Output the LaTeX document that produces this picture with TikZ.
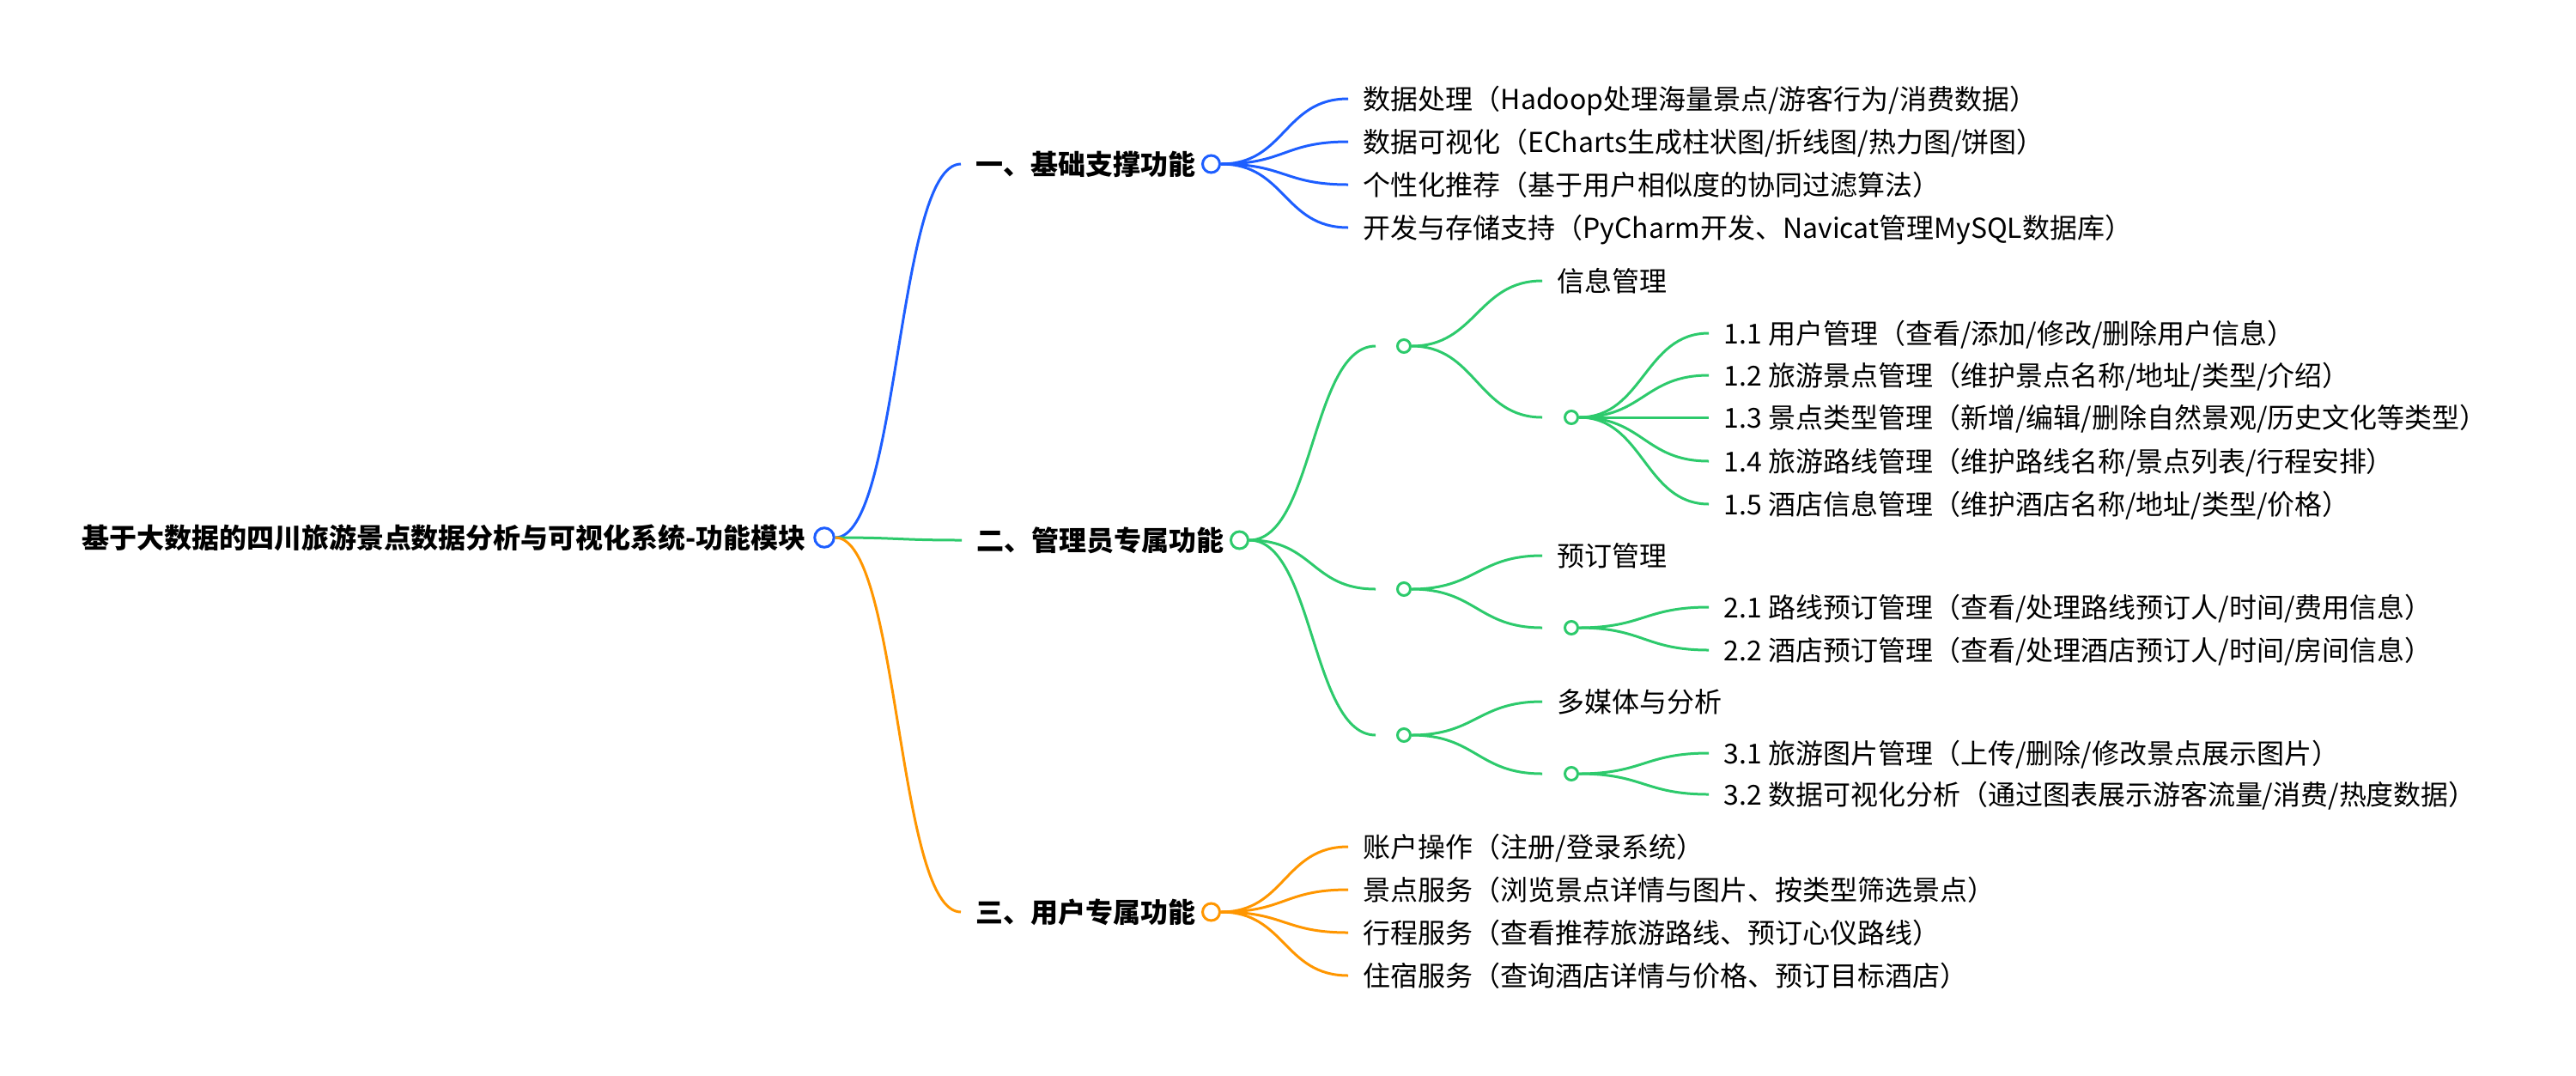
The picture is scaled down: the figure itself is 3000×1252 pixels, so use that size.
\documentclass[tikz,border=0pt]{standalone}
\usepackage{fontspec}
\setmainfont{Noto Sans CJK SC}
\usepackage{tikz}
\usetikzlibrary{positioning, calc}
\definecolor{mapblue}{HTML}{1D5EFF}
\definecolor{mapgreen}{HTML}{2DCA6C}
\definecolor{maporange}{HTML}{FF9600}

\begin{document}
\begin{tikzpicture}[
  x=0.02cm, y=-0.02cm,
  every node/.style={font=\fontsize{18.2}{22}\selectfont, text=black},
  topic/.style={anchor=west, inner xsep=0.35cm, inner ysep=0pt, text height=0.55cm, text depth=0.064cm},
  head/.style={topic, font=\fontsize{18.2}{22}\selectfont\bfseries},
  dot/.style={circle, draw, fill=white, line width=0.06cm, inner sep=0pt, minimum size=0.4cm},
  subdot/.style={dot, minimum size=0.3cm},
  link/.style={line width=0.06cm, out=0, in=180, distance=1.5cm}
]
\useasboundingbox (0,0) rectangle (3000,1252);

\node[dot, draw=mapblue, minimum size=0.45cm] (root) at (960,626) {};
\node[head, anchor=east, inner xsep=0.16cm] (title) at (root.west) {基于大数据的四川旅游景点数据分析与可视化系统-功能模块};

% 一、基础支撑功能
\node[head] (base) at (1119,191) {一、基础支撑功能};
\node[dot, draw=mapblue] (basedot) at (base.east) {};
\node[topic] (base1) at (1570,115) {数据处理（Hadoop处理海量景点/游客行为/消费数据）};
\node[topic] (base2) at (1570,165) {数据可视化（ECharts生成柱状图/折线图/热力图/饼图）};
\node[topic] (base3) at (1570,215) {个性化推荐（基于用户相似度的协同过滤算法）};
\node[topic] (base4) at (1570,265) {开发与存储支持（PyCharm开发、Navicat管理MySQL数据库）};

% 二、管理员专属功能
\node[head] (admin) at (1120,629) {二、管理员专属功能};
\node[dot, draw=mapgreen] (admindot) at (admin.east) {};

\coordinate (info) at (1602,403);
\node[subdot, draw=mapgreen] (infodot) at (1635,403) {};
\node[topic] (infotitle) at (1796,327) {信息管理};
\coordinate (infolist) at (1796,486);
\node[subdot, draw=mapgreen] (infolistdot) at (1830,486) {};
\node[topic] (info1) at (1990,388) {1.1 用户管理（查看/添加/修改/删除用户信息）};
\node[topic] (info2) at (1990,437) {1.2 旅游景点管理（维护景点名称/地址/类型/介绍）};
\node[topic] (info3) at (1990,486) {1.3 景点类型管理（新增/编辑/删除自然景观/历史文化等类型）};
\node[topic] (info4) at (1990,537) {1.4 旅游路线管理（维护路线名称/景点列表/行程安排）};
\node[topic] (info5) at (1990,587) {1.5 酒店信息管理（维护酒店名称/地址/类型/价格）};

\coordinate (order) at (1602,686);
\node[subdot, draw=mapgreen] (orderdot) at (1635,686) {};
\node[topic] (ordertitle) at (1796,647) {预订管理};
\coordinate (orderlist) at (1796,731);
\node[subdot, draw=mapgreen] (orderlistdot) at (1830,731) {};
\node[topic] (order1) at (1990,707) {2.1 路线预订管理（查看/处理路线预订人/时间/费用信息）};
\node[topic] (order2) at (1990,757) {2.2 酒店预订管理（查看/处理酒店预订人/时间/房间信息）};

\coordinate (media) at (1602,856);
\node[subdot, draw=mapgreen] (mediadot) at (1635,856) {};
\node[topic] (mediatitle) at (1796,817) {多媒体与分析};
\coordinate (medialist) at (1796,901);
\node[subdot, draw=mapgreen] (medialistdot) at (1830,901) {};
\node[topic] (media1) at (1990,877) {3.1 旅游图片管理（上传/删除/修改景点展示图片）};
\node[topic] (media2) at (1990,925) {3.2 数据可视化分析（通过图表展示游客流量/消费/热度数据）};

% 三、用户专属功能
\node[head] (user) at (1119,1062) {三、用户专属功能};
\node[dot, draw=maporange] (userdot) at (user.east) {};
\node[topic] (user1) at (1570,986) {账户操作（注册/登录系统）};
\node[topic] (user2) at (1570,1036) {景点服务（浏览景点详情与图片、按类型筛选景点）};
\node[topic] (user3) at (1570,1086) {行程服务（查看推荐旅游路线、预订心仪路线）};
\node[topic] (user4) at (1570,1136) {住宿服务（查询酒店详情与价格、预订目标酒店）};

% connectors
\draw[link, mapblue] (root.east) to (base.west);
\draw[link, mapgreen] (root.east) to (admin.west);
\draw[link, maporange] (root.east) to (user.west);
\foreach \n in {base1,base2,base3,base4}
  \draw[link, mapblue] (basedot.east) to (\n.west);
\foreach \n in {user1,user2,user3,user4}
  \draw[link, maporange] (userdot.east) to (\n.west);
\foreach \n in {info,order,media}
  \draw[link, mapgreen] (admindot.east) to (\n);
\foreach \n in {info,order,media} {
  \draw[link, mapgreen] (\n dot.east) to (\n title.west);
  \draw[link, mapgreen] (\n dot.east) to (\n list);
}
\foreach \n in {info1,info2,info3,info4,info5}
  \draw[link, mapgreen] (infolistdot.east) to (\n.west);
\foreach \n in {order1,order2}
  \draw[link, mapgreen] (orderlistdot.east) to (\n.west);
\foreach \n in {media1,media2}
  \draw[link, mapgreen] (medialistdot.east) to (\n.west);
\end{tikzpicture}
\end{document}
